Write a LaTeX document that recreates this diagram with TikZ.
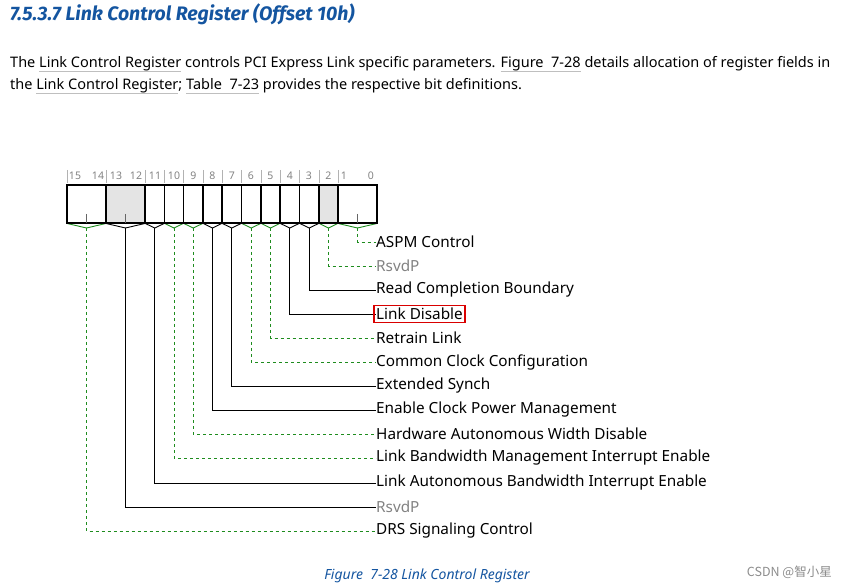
\documentclass[tikz,border=0pt]{standalone}
\usepackage{fontspec}
\setmainfont{Noto Sans}
\newfontfamily\headf{Fira Sans}
\usetikzlibrary{fit}
\usepackage{xcolor}
\definecolor{hblue}{RGB}{20,85,160}
\definecolor{lgreen}{RGB}{30,140,30}
\definecolor{tgray}{RGB}{130,130,130}
\definecolor{cgray}{RGB}{228,228,228}
\newcommand\gul[1]{\setbox0\hbox{#1}\rlap{\textcolor{black!25}{\rule[-5pt]{\wd0}{1.2pt}}}\box0\relax}
\newfontfamily\cjk{Noto Sans CJK SC}
\begin{document}
\begin{tikzpicture}[x=1pt,y=-1pt,
  lab/.style={anchor=west,inner sep=0pt,font=\fontsize{15.3}{17}\selectfont},
  bitn/.style={inner sep=0pt,font=\fontsize{10.5}{12}\selectfont,text=tgray},
  cell/.style={draw=black,line width=1.2pt},
  gl/.style={lgreen,dashed,line width=0.9pt},
  bl/.style={black,line width=0.9pt}]
\useasboundingbox (0,0) rectangle (847,588);
\node[anchor=west,inner sep=0pt,text=hblue,font=\headf\fontsize{19.5}{22}\bfseries\itshape\selectfont] (head) at (10,14) {7.5.3.7 Link Control Register (Offset 10h)};
\node[anchor=west,inner sep=0pt,font=\fontsize{14.5}{16}\selectfont] (p1) at (10,64) {The \gul{Link Control Register} controls PCI Express Link specific parameters. \gul{Figure\ \ 7-28} details allocation of register fields in};
\node[anchor=west,inner sep=0pt,font=\fontsize{14.5}{16}\selectfont] (p2) at (10,86) {the \gul{Link Control Register}; \gul{Table\ \ 7-23} provides the respective bit definitions.};
\def\ctop{185}\def\cbot{223}\def\capex{228}
\foreach \l/\r/\f/\s/\ly/\t/\tc/\n in {
 338/377/white/gl/242/ASPM Control/black/a,
 319/338/cgray/gl/266/RsvdP/tgray/b,
 299.5/319/white/bl/290/Read Completion Boundary/black/c,
 280/299.5/white/bl/314/Link Disable/black/d,
 261/280/white/gl/338/Retrain Link/black/e,
 241.5/261/white/gl/362/Common Clock Configuration/black/f,
 222/241.5/white/bl/386/Extended Synch/black/g,
 203/222/white/bl/410/Enable Clock Power Management/black/h,
 183.5/203/white/gl/434/Hardware Autonomous Width Disable/black/i,
 164.5/183.5/white/gl/458/Link Bandwidth Management Interrupt Enable/black/j,
 145/164.5/white/bl/483/Link Autonomous Bandwidth Interrupt Enable/black/k,
 106/145/cgray/bl/507/RsvdP/tgray/l,
 67/106/white/gl/531/DRS Signaling Control/black/m}
{
 \path[cell,fill=\f] (\l,\ctop) rectangle (\r,\cbot);
 \coordinate (ap\n) at ({(\l+\r)/2},\capex);
 \node[lab,text=\tc] (t\n) at (376,\ly) {\t};
 \draw[\s,solid] (\l+0.6,\cbot+0.6) -- (ap\n) -- (\r-0.6,\cbot+0.6);
 \draw[\s] (ap\n) |- (t\n.west);
}
\draw[cell] (67,\ctop) rectangle (377,\cbot);
\foreach \x in {86.5,125.5,357.5} \draw[black!60,line width=0.8pt] (\x,214) -- (\x,\cbot);
\node[draw=red!85!black,line width=1.3pt,inner xsep=2pt,inner ysep=2.5pt,fit=(td)] (hl) {};
\foreach \x in {67,106,145,164.5,183.5,203,222,241.5,261,280,299.5,319,338}
  \draw[black!30,line width=0.8pt] (\x,170) -- (\x,183);
\foreach \x/\t in {75/15,98/14,116/13,136/12,155/11,174/10,193.5/9,212.5/8,232/7,251/6,270.5/5,290/4,309/3,328.5/2,344/1,371/0}
  \node[bitn] at (\x,176) {\t};
\node[inner sep=0pt,text=hblue,font=\fontsize{14}{16}\itshape\selectfont] (cap) at (427,576) {Figure\ \ 7-28 Link Control Register};
\node[anchor=east,inner sep=0pt,text=black!45,font=\fontsize{12.5}{14}\cjk] (wm) at (832,572) {CSDN @智小星};
\end{tikzpicture}
\end{document}
